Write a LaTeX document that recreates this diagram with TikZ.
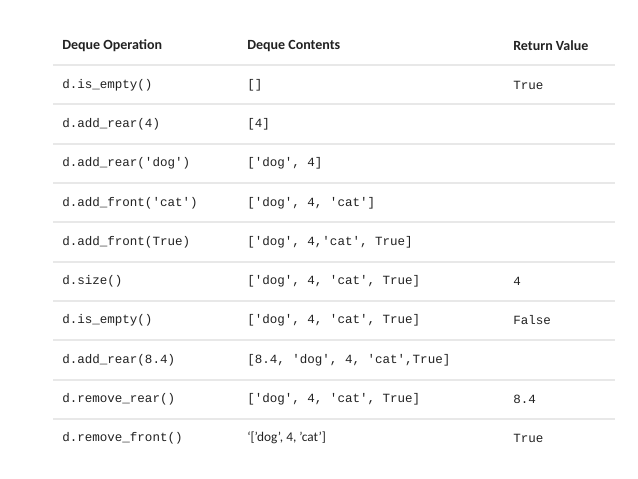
\documentclass[tikz,border=0pt]{standalone}
\usepackage{fontspec}
\setmainfont{Carlito}
\setmonofont{Liberation Mono}
\definecolor{txt}{HTML}{222222}
\definecolor{rule}{HTML}{E8E8E8}
\begin{document}
\begin{tikzpicture}[x=0.75pt,y=-0.75pt,
  hd/.style={anchor=west,inner sep=0pt,font=\fontsize{10.5}{12}\selectfont\bfseries,text=txt},
  cell/.style={anchor=west,inner sep=0pt,font=\fontsize{9.4}{11}\ttfamily,text=txt},
  sf/.style={anchor=west,inner sep=0pt,font=\fontsize{10}{12}\selectfont,text=txt}]
\useasboundingbox[fill=white] (0,0) rectangle (638,478);
\node[hd] (h1) at (62,46) {Deque Operation};
\node[hd] (h2) at (247,46) {Deque Contents};
\node[hd] (h3) at (513,46) {Return Value};
\foreach \y in {65,104,144,183,222,262,301,340,380,419}
  \draw[rule,line width=0.8pt] (53,\y) -- (615,\y);
\foreach \y/\a/\b/\c [count=\i] in {
 85/{d.is\_empty()}/{[]}/{True},
 124/{d.add\_rear(4)}/{[4]}/{},
 163/{d.add\_rear('dog')}/{['dog', 4]}/{},
 203/{d.add\_front('cat')}/{['dog', 4, 'cat']}/{},
 242/{d.add\_front(True)}/{['dog', 4,'cat', True]}/{},
 281/{d.size()}/{['dog', 4, 'cat', True]}/{4},
 320/{d.is\_empty()}/{['dog', 4, 'cat', True]}/{False},
 360/{d.add\_rear(8.4)}/{[8.4, 'dog', 4, 'cat',True]}/{},
 399/{d.remove\_rear()}/{['dog', 4, 'cat', True]}/{8.4}}{
  \node[cell] (a\i) at (62,\y) {\a};
  \node[cell] (b\i) at (247,\y) {\b};
  \node[cell] (c\i) at (513,\y) {\c};
}
\node[cell] (a10) at (62,438) {d.remove\_front()};
\node[sf] (b10) at (247,438) {`['dog', 4, 'cat']};
\node[cell] (c10) at (513,438) {True};
\end{tikzpicture}
\end{document}
